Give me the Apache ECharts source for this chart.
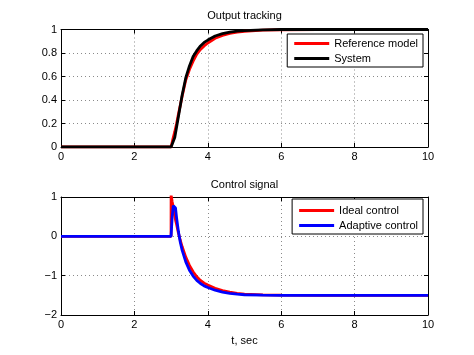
<!DOCTYPE html>
<html>
<head>
<meta charset="utf-8">
<script src="https://cdn.jsdelivr.net/npm/echarts@6/dist/echarts.min.js"></script>
<style>
html,body{margin:0;padding:0;background:#fff;}
#c{width:474px;height:355px;}
</style>
</head>
<body>
<div id="c"></div>
<script>
// ---- data ----
var tTop = [0, 3.0, 3.05, 3.1, 3.15, 3.2, 3.3, 3.4, 3.5, 3.6, 3.7, 3.8, 3.9, 4.0, 4.2, 4.4, 4.6, 4.8, 5.0, 5.5, 6.0, 7.0, 10];
var refModel = [0, 0, 0.07, 0.13, 0.2, 0.28, 0.43, 0.57, 0.66, 0.73, 0.79, 0.83, 0.86, 0.885, 0.925, 0.95, 0.966, 0.977, 0.985, 0.994, 0.998, 1, 1];
var systemOut = [0, 0, 0, 0.08, 0.17, 0.26, 0.44, 0.59, 0.69, 0.77, 0.82, 0.86, 0.89, 0.91, 0.945, 0.965, 0.978, 0.986, 0.991, 0.997, 1, 1, 1];

var tBot = [0, 2.999, 3.0, 3.03, 3.06, 3.09, 3.12, 3.15, 3.2, 3.25, 3.3, 3.4, 3.5, 3.6, 3.7, 3.8, 3.9, 4.0, 4.2, 4.4, 4.6, 4.8, 5.0, 5.5, 6.0, 7.0, 10];
var idealCtrl = [0, 0, 1.05, 0.88, 0.72, 0.56, 0.42, 0.3, 0.08, -0.1, -0.26, -0.53, -0.74, -0.9, -1.03, -1.12, -1.19, -1.24, -1.32, -1.38, -1.42, -1.45, -1.47, -1.49, -1.497, -1.5, -1.5];
var adaptCtrl = [0, 0, 0, 0.5, 0.78, 0.82, 0.72, 0.47, 0.12, -0.15, -0.35, -0.65, -0.86, -1.01, -1.12, -1.2, -1.26, -1.3, -1.37, -1.42, -1.45, -1.47, -1.485, -1.495, -1.5, -1.5, -1.5];

var titles = ['Output tracking', 'Control signal'];
var xLabel = 't, sec';
var legendTop = ['Reference model', 'System'];
var legendBot = ['Ideal control', 'Adaptive control'];

function pairs(t, v) { return t.map(function (x, i) { return [x, v[i]]; }); }

var FONT = 'Liberation Sans, Arial, sans-serif';
var FS = 11;

function xAx(grid, pos, primary, name) {
  return {
    type: 'value', gridIndex: grid, position: pos, min: 0, max: 10, interval: 2,
    axisLine: { show: true, onZero: false, lineStyle: { color: '#000', width: 1 } },
    axisTick: { show: true, inside: true, length: 4, lineStyle: { color: '#000' } },
    axisLabel: { show: primary, color: '#000', fontFamily: FONT, fontSize: FS, margin: 4 },
    splitLine: { show: primary, lineStyle: { color: '#8a8a8a', type: [1, 3], width: 1 } },
    name: name || '', nameLocation: 'middle', nameGap: 20,
    nameTextStyle: { color: '#000', fontFamily: FONT, fontSize: FS }
  };
}
function yAx(grid, pos, primary, min, max, interval) {
  return {
    type: 'value', gridIndex: grid, position: pos, min: min, max: max, interval: interval,
    axisLine: { show: true, onZero: false, lineStyle: { color: '#000', width: 1 } },
    axisTick: { show: true, inside: true, length: 4, lineStyle: { color: '#000' } },
    axisLabel: { show: primary, color: '#000', fontFamily: FONT, fontSize: FS, margin: 4,
      formatter: function (v) { return String(Math.round(v * 10) / 10).replace('-', '\u2212'); } },
    splitLine: { show: primary, lineStyle: { color: '#8a8a8a', type: [1, 3], width: 1 } }
  };
}
function legend(names, top, right, pad) {
  return {
    data: names, orient: 'vertical', right: right, top: top,
    icon: 'rect',
    backgroundColor: '#fff', borderColor: '#000', borderWidth: 1,
    padding: pad, itemWidth: 35, itemHeight: 3, itemGap: 0,
    textStyle: { color: '#000', fontFamily: FONT, fontSize: 11, lineHeight: 15 }
  };
}
function line(name, data, color, xi, yi) {
  return {
    name: name, type: 'line', data: data, xAxisIndex: xi, yAxisIndex: yi,
    symbol: 'none', showSymbol: false, clip: true, animation: false,
    lineStyle: { color: color, width: 2.8 }, itemStyle: { color: color }
  };
}

var chart = echarts.init(document.getElementById('c'), null, { renderer: 'canvas' });
chart.setOption({
  backgroundColor: '#fff',
  animation: false,
  grid: [
    { left: 61, top: 29.5, width: 367, height: 117.5 },
    { left: 61, top: 197, width: 367, height: 118 }
  ],
  xAxis: [xAx(0, 'bottom', true), xAx(0, 'top', false), xAx(1, 'bottom', true, xLabel), xAx(1, 'top', false)],
  yAxis: [yAx(0, 'left', true, 0, 1, 0.2), yAx(0, 'right', false, 0, 1, 0.2),
          yAx(1, 'left', true, -2, 1, 1), yAx(1, 'right', false, -2, 1, 1)],
  legend: [legend(legendTop, 34, 51, [2, 5, 1, 7]), legend(legendBot, 199, 51, [4, 5, 1, 7])],
  graphic: [
    { type: 'text', x: 244.5, y: 16, style: { text: titles[0], textAlign: 'center', textVerticalAlign: 'middle', fill: '#000', font: FS + 'px ' + FONT } },
    { type: 'text', x: 244.5, y: 185, style: { text: titles[1], textAlign: 'center', textVerticalAlign: 'middle', fill: '#000', font: FS + 'px ' + FONT } }
  ],
  series: [
    line(legendTop[0], pairs(tTop, refModel), '#ff0000', 0, 0),
    line(legendTop[1], pairs(tTop, systemOut), '#000000', 0, 0),
    line(legendBot[0], pairs(tBot, idealCtrl), '#ff0000', 2, 2),
    line(legendBot[1], pairs(tBot, adaptCtrl), '#0000ff', 2, 2)
  ]
});
</script>
</body>
</html>
